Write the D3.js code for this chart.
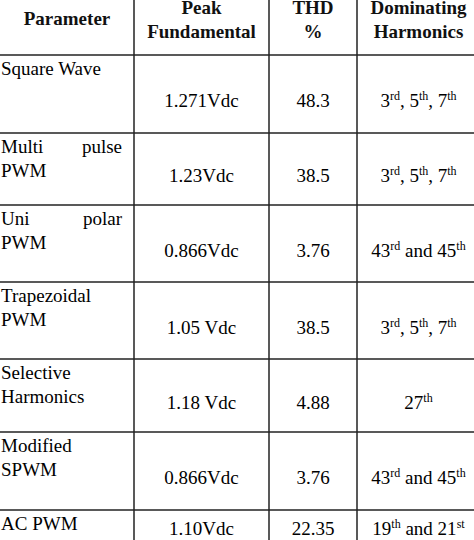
<!DOCTYPE html><html><head><meta charset="utf-8"><script src="https://cdn.jsdelivr.net/npm/d3@7"></script>
<style>body{margin:0;background:#fff}text{font-family:"Liberation Serif","Times New Roman","DejaVu Serif",serif}</style></head><body><svg id="c" width="474" height="540"></svg>
<script>
const headers=[["Parameter"],["Peak","Fundamental"],["THD","%"],["Dominating","Harmonics"]];
const parameters=[["Square Wave"],["Multi|pulse","PWM"],["Uni|polar","PWM"],["Trapezoidal","PWM"],["Selective","Harmonics"],["Modified","SPWM"],["AC PWM"]];
const peak=["1.271Vdc","1.23Vdc","0.866Vdc","1.05 Vdc","1.18 Vdc","0.866Vdc","1.10Vdc"];
const thd=["48.3","38.5","3.76","38.5","4.88","3.76","22.35"];
const harmonics=[[["3","rd"],[", 5","th"],[", 7","th"]],[["3","rd"],[", 5","th"],[", 7","th"]],[["43","rd"],[" and 45","th"]],[["3","rd"],[", 5","th"],[", 7","th"]],[["27","th"]],[["43","rd"],[" and 45","th"]],[["19","th"],[" and 21","st"]]];
const rowEdges=[0,55,133,205,282,359,432,510,560];
const colEdges=[0,134,269,357,520];
const svg=d3.select("#c"),FS=19;
const g=svg.append("g");
g.selectAll(".v").data(colEdges.slice(1,4)).join("line").attr("x1",d=>d).attr("x2",d=>d).attr("y1",0).attr("y2",540).attr("stroke","#222").attr("stroke-width",1.5);
g.selectAll(".h").data(rowEdges.slice(1,8)).join("line").attr("y1",d=>d).attr("y2",d=>d).attr("x1",0).attr("x2",474).attr("stroke","#222").attr("stroke-width",1.5);
const cx=i=>i==3?(colEdges[3]+474)/2+3:(colEdges[i]+colEdges[i+1])/2;
headers.forEach((h,i)=>{const y0=h.length==1?25:14;h.forEach((t,k)=>svg.append("text").attr("x",cx(i)).attr("y",y0+k*24).attr("text-anchor","middle").attr("font-weight","bold").attr("font-size",FS).attr("fill","#111").text(t));});
parameters.forEach((p,r)=>{const top=rowEdges[r+1];
 p.forEach((t,k)=>{const y=top+20+k*24;const parts=t.split("|");
  if(parts.length==2){svg.append("text").attr("x",1).attr("y",y).attr("font-size",FS).text(parts[0]);svg.append("text").attr("x",122).attr("y",y).attr("text-anchor","end").attr("font-size",FS).text(parts[1]);}
  else svg.append("text").attr("x",1).attr("y",y).attr("font-size",FS).text(t);});
 const bot=rowEdges[r+2];const y=r==6?top+25:(top+bot)/2+13;
 svg.append("text").attr("x",cx(1)).attr("y",y).attr("text-anchor","middle").attr("font-size",FS).text(peak[r]);
 svg.append("text").attr("x",cx(2)).attr("y",y).attr("text-anchor","middle").attr("font-size",FS).text(thd[r]);
 const t=svg.append("text").attr("x",cx(3)).attr("y",y).attr("text-anchor","middle").attr("font-size",FS);
 harmonics[r].forEach(([a,s],j)=>{t.append("tspan").attr("dy",j?7:0).text(a);t.append("tspan").attr("dy",-7).attr("font-size",12).text(s);});
});
</script></body></html>
